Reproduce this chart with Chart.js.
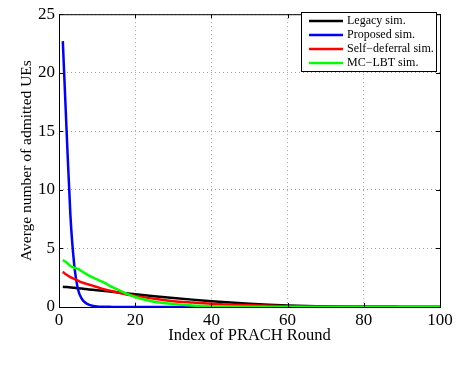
<!DOCTYPE html>
<html>
<head>
<meta charset="utf-8">
<script src="https://cdn.jsdelivr.net/npm/chart.js@4.4.1/dist/chart.umd.min.js"></script>
<style>
  html, body { margin: 0; padding: 0; background: #fff; }
  #wrap { width: 474px; height: 370px; }
</style>
</head>
<body>
<div id="wrap"><canvas id="myChart" width="474" height="370"></canvas></div>
<script>
const rounds = [1, 2, 3, 4, 5, 6, 7, 8, 9, 10, 12, 14, 16, 18, 20, 25, 30, 35, 40, 45, 50, 55, 60, 65, 70, 75, 80, 90, 100];

const legacySim   = [1.72, 1.70, 1.67, 1.64, 1.60, 1.57, 1.54, 1.50, 1.47, 1.44, 1.37, 1.30, 1.22, 1.15, 1.08, 0.92, 0.77, 0.63, 0.50, 0.38, 0.28, 0.20, 0.13, 0.08, 0.05, 0.03, 0.02, 0.01, 0.0];
const proposedSim = [22.7, 15.0, 7.8, 3.6, 1.5, 0.7, 0.35, 0.18, 0.09, 0.05, 0.02, 0.01, 0, 0, 0, 0, 0, 0, 0, 0, 0, 0, 0, 0, 0, 0, 0, 0, 0];
const selfDefSim  = [3.0, 2.75, 2.55, 2.4, 2.25, 2.1, 2.0, 1.9, 1.8, 1.7, 1.5, 1.35, 1.2, 1.05, 0.95, 0.7, 0.5, 0.38, 0.28, 0.2, 0.15, 0.1, 0.07, 0.05, 0.03, 0.02, 0.01, 0, 0];
const mcLbtSim    = [4.0, 3.8, 3.5, 3.35, 3.25, 3.05, 2.85, 2.65, 2.5, 2.35, 2.05, 1.7, 1.4, 1.1, 0.85, 0.45, 0.25, 0.13, 0.07, 0.04, 0.02, 0.01, 0, 0, 0, 0, 0, 0, 0];

const seriesNames = ['Legacy sim.', 'Proposed sim.', 'Self\u2212deferral sim.', 'MC\u2212LBT sim.'];
const seriesColors = ['#000000', '#0000ff', '#ff0000', '#00ff00'];

const xTicks = [0, 20, 40, 60, 80, 100];
const yTicks = [0, 5, 10, 15, 20, 25];

const FONT = '"Liberation Serif", "Times New Roman", serif';

const toPoints = vals => vals.map((v, i) => ({ x: rounds[i], y: v }));

// frame, inward ticks and the boxed legend, matlab style
const matlabBox = {
  id: 'matlabBox',
  afterDraw(chart) {
    const { ctx, chartArea: a, scales } = chart;
    ctx.save();
    ctx.strokeStyle = '#000';
    ctx.lineWidth = 1;
    ctx.strokeRect(a.left + 0.5, a.top + 0.5, a.right - a.left, a.bottom - a.top);
    ctx.beginPath();
    xTicks.forEach(t => {
      const px = Math.round(scales.x.getPixelForValue(t)) + 0.5;
      ctx.moveTo(px, a.bottom); ctx.lineTo(px, a.bottom - 4);
      ctx.moveTo(px, a.top); ctx.lineTo(px, a.top + 4);
    });
    yTicks.forEach(t => {
      const py = Math.round(scales.y.getPixelForValue(t)) + 0.5;
      ctx.moveTo(a.left, py); ctx.lineTo(a.left + 4, py);
      ctx.moveTo(a.right, py); ctx.lineTo(a.right - 4, py);
    });
    ctx.stroke();

    // legend
    const bx = 301, by = 12, bw = 135, bh = 59;
    ctx.fillStyle = '#fff';
    ctx.fillRect(bx, by, bw, bh);
    ctx.strokeRect(bx + 0.5, by + 0.5, bw, bh);
    ctx.font = '12px ' + FONT;
    ctx.textBaseline = 'middle';
    chart.data.datasets.forEach((ds, i) => {
      const y = by + 9 + i * 14;
      ctx.strokeStyle = ds.borderColor;
      ctx.lineWidth = 2.5;
      ctx.beginPath();
      ctx.moveTo(bx + 8, y); ctx.lineTo(bx + 42, y);
      ctx.stroke();
      ctx.fillStyle = '#000';
      ctx.fillText(ds.label, bx + 46, y);
    });
    ctx.restore();
  }
};

const datasets = [legacySim, proposedSim, selfDefSim, mcLbtSim].map((vals, i) => ({
  label: seriesNames[i],
  data: toPoints(vals),
  borderColor: seriesColors[i],
  backgroundColor: seriesColors[i],
  borderWidth: 2.5,
  pointRadius: 0,
  cubicInterpolationMode: 'monotone',
  order: 3 - i
}));

const gridOpts = { color: '#a0a0a0', lineWidth: 1, drawTicks: false, tickLength: 0 };
const borderOpts = { display: false, dash: [1, 3] };

new Chart(document.getElementById('myChart').getContext('2d'), {
  type: 'line',
  data: { datasets },
  options: {
    responsive: false,
    animation: false,
    layout: { padding: { left: 18, top: 6, right: 34, bottom: 24 } },
    plugins: { legend: { display: false }, tooltip: { enabled: false } },
    scales: {
      x: {
        type: 'linear', min: 0, max: 100,
        afterBuildTicks: s => { s.ticks = xTicks.map(v => ({ value: v })); },
        afterFit: s => { s.height = 39; },
        grid: gridOpts,
        border: borderOpts,
        ticks: { color: '#000', font: { family: FONT, size: 17 }, padding: 3, maxRotation: 0 },
        title: { display: true, text: 'Index of PRACH Round', color: '#000', font: { family: FONT, size: 16.5 }, padding: { top: 0, bottom: 0 } }
      },
      y: {
        type: 'linear', min: 0, max: 25,
        afterBuildTicks: s => { s.ticks = yTicks.map(v => ({ value: v })); },
        afterFit: s => { s.width = 41; },
        grid: gridOpts,
        border: borderOpts,
        ticks: { color: '#000', font: { family: FONT, size: 17 }, padding: 4 },
        title: { display: true, text: 'Averge number of admitted UEs', color: '#000', font: { family: FONT, size: 15.5 }, padding: { top: 0, bottom: 0 } }
      }
    }
  },
  plugins: [matlabBox]
});
</script>
</body>
</html>
